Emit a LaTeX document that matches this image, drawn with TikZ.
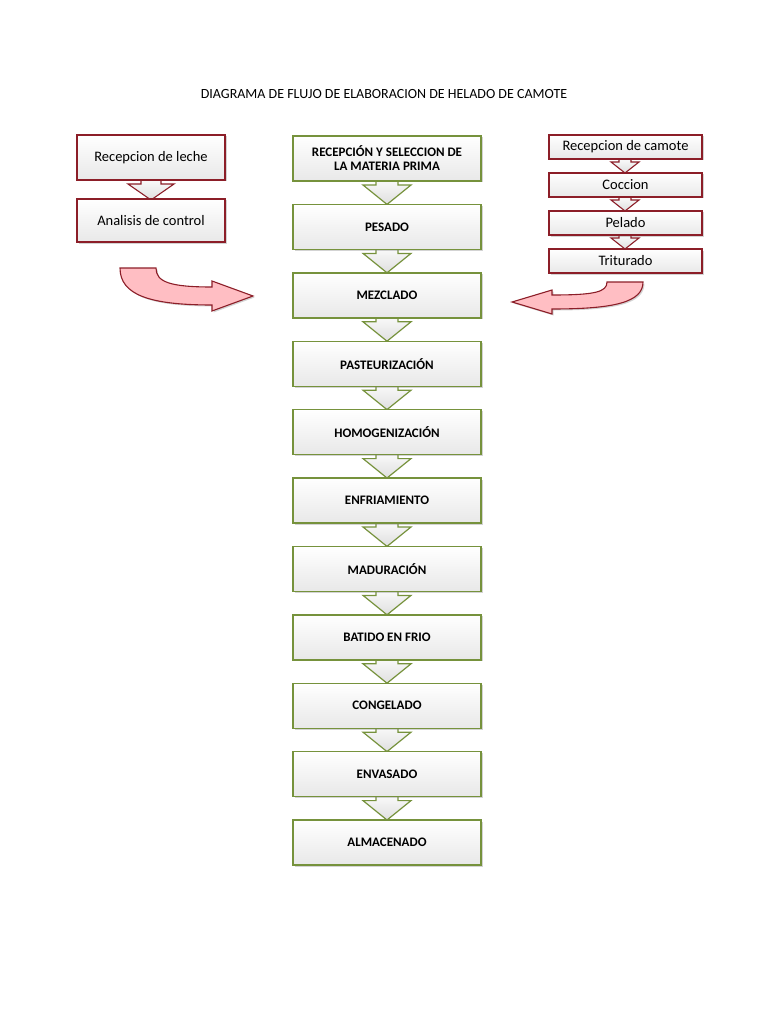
\documentclass[tikz,border=0pt]{standalone}
\usepackage{fontspec}
\setmainfont{Carlito}
\usetikzlibrary{shadows}
\definecolor{gbox}{RGB}{118,146,60}
\definecolor{rbox}{RGB}{140,30,40}
\definecolor{pinkf}{RGB}{255,190,195}
\begin{document}
\begin{tikzpicture}[x=1pt,y=-1pt,
  gb/.style={draw=gbox,line width=1.4pt,top color=white,bottom color=gray!18,drop shadow={shadow xshift=1.5pt,shadow yshift=-1.5pt,opacity=0.35},minimum width=188pt,minimum height=45pt,inner sep=0pt,font=\bfseries\fontsize{13}{14}\selectfont,align=center},
  rb/.style={draw=rbox,line width=1.2pt,top color=white,bottom color=gray!18,drop shadow={shadow xshift=1.5pt,shadow yshift=-1.5pt,opacity=0.35},inner sep=0pt,font=\fontsize{14.5}{16}\selectfont,align=center},
  garr/.style={draw=gbox,line width=1.2pt,top color=white,bottom color=gray!25},
  rarr/.style={draw=rbox,line width=1.1pt,top color=white,bottom color=gray!25},
  curv/.style={draw=rbox,line width=1.1pt,fill=pinkf,drop shadow={shadow xshift=1.5pt,shadow yshift=-1.5pt,opacity=0.35}}]
\useasboundingbox (0,0) rectangle (768,1024);
\node[font=\fontsize{14}{16}\selectfont] (title) at (384,94) {DIAGRAMA DE FLUJO DE ELABORACION DE HELADO DE CAMOTE};
% green down arrows between center boxes
\foreach \i in {0,...,9}{
  \pgfmathsetmacro{\yb}{181+68.4*\i}
  \pgfmathsetmacro{\yt}{\yb+23.4}
  \draw[garr] (376,\yb-6) -- (376,\yb+4) -- (363,\yb+4) -- (387,\yt) -- (411,\yb+4) -- (398,\yb+4) -- (398,\yb-6) -- cycle;
}
\node[gb] (c1) at (387,158.5) {RECEPCIÓN Y SELECCION DE\\LA MATERIA PRIMA};
\node[gb] (c2) at (387,226.9) {PESADO};
\node[gb] (c3) at (387,295.3) {MEZCLADO};
\node[gb] (c4) at (387,363.7) {PASTEURIZACIÓN};
\node[gb] (c5) at (387,432.1) {HOMOGENIZACIÓN};
\node[gb] (c6) at (387,500.5) {ENFRIAMIENTO};
\node[gb] (c7) at (387,568.9) {MADURACIÓN};
\node[gb] (c8) at (387,637.3) {BATIDO EN FRIO};
\node[gb] (c9) at (387,705.7) {CONGELADO};
\node[gb] (c10) at (387,774.1) {ENVASADO};
\node[gb] (c11) at (387,842.5) {ALMACENADO};
% left red arrows
\draw[rarr] (141,176) -- (141,184) -- (128,184) -- (151,200) -- (174,184) -- (161,184) -- (161,176) -- cycle;
\node[rb,minimum width=148pt,minimum height=45pt] (l1) at (151,157.5) {Recepcion de leche};
\node[rb,minimum width=148pt,minimum height=43pt] (l2) at (151,220.5) {Analisis de control};
% right red arrows
\foreach \y in {159,197,235}{
  \draw[rarr] (619,\y-3) -- (619,\y+3) -- (611,\y+3) -- (625,\y+14) -- (639,\y+3) -- (631,\y+3) -- (631,\y-3) -- cycle;
}
\node[rb,minimum width=153pt,minimum height=24pt] (r1) at (625.5,147) {Recepcion de camote};
\node[rb,minimum width=153pt,minimum height=24pt] (r2) at (625.5,185) {Coccion};
\node[rb,minimum width=153pt,minimum height=24pt] (r3) at (625.5,223) {Pelado};
\node[rb,minimum width=153pt,minimum height=24pt] (r4) at (625.5,261) {Triturado};
% curved arrows
\draw[curv] (120,268) -- (156,268) .. controls (156,282) and (170,287) .. (212,287)
  -- (212,281) -- (253,296) -- (212,311) -- (212,305)
  .. controls (150,305) and (120,295) .. cycle;
\draw[curv] (643,282) -- (607,282) .. controls (607,292) and (595,295) .. (552,295)
  -- (552,290) -- (512,302) -- (552,314) -- (552,309)
  .. controls (615,309) and (643,302) .. cycle;
\end{tikzpicture}
\end{document}
